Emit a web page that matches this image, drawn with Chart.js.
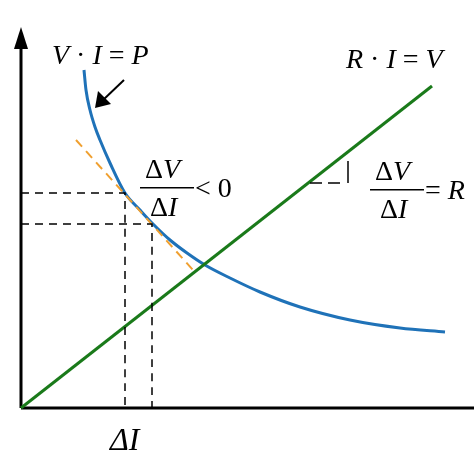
<!DOCTYPE html>
<html><head><meta charset="utf-8">
<script src="https://cdn.jsdelivr.net/npm/chart.js@4.4.0/dist/chart.umd.min.js"></script>
<style>html,body{margin:0;padding:0;background:#fff}#wrap{width:474px;height:474px}</style>
</head><body><div id="wrap"><canvas id="c"></canvas></div>
<script>
// Coordinates in a 0..474 frame (y upward from bottom)
const powerCurve = [[84,404],[86,384],[90,364],[95,347],[100,334],[110,311],[125,281],[140,264],[153,250],[170,234],[187,221],[205,209],[230,196],[260,182],[300,167],[350,154],[400,146],[445,142]];
const resistLine = [[21,66],[432,388]];
const tangentLine = [[76,334],[193,204]];
const guideV1 = [[21,281],[125,281],[125,66]];
const guideV2 = [[21,250],[152,250],[152,66]];
const slopeMark = [[310,291],[346,291]];
const slopeMarkUp = [[348,291],[348,313]];
const xAxis = [[21,66],[474,66]];
const yAxis = [[21,66],[21,440]];

const pts = a => a.map(p => ({x: p[0], y: p[1]}));
const ds = (d, color, width, dash, tension) => ({data: pts(d), borderColor: color, borderWidth: width, borderDash: dash || [], pointRadius: 0, showLine: true, fill: false, tension: tension || 0, cubicInterpolationMode: 'monotone'});

const labels = {
  id: 'labels',
  afterDatasetsDraw(chart) {
    const {ctx, scales: {x, y}} = chart;
    const X = v => x.getPixelForValue(v), Y = v => y.getPixelForValue(v);
    ctx.save();
    ctx.fillStyle = '#000'; ctx.strokeStyle = '#000';
    // axis arrowheads
    ctx.beginPath(); ctx.moveTo(X(21), Y(447)); ctx.lineTo(X(14), Y(425)); ctx.lineTo(X(28), Y(425)); ctx.closePath(); ctx.fill();
    // arrow from label to curve
    ctx.lineWidth = 2;
    ctx.beginPath(); ctx.moveTo(X(124), Y(394)); ctx.lineTo(X(102), Y(373)); ctx.stroke();
    ctx.beginPath(); ctx.moveTo(X(95), Y(366)); ctx.lineTo(X(98), Y(383)); ctx.lineTo(X(111), Y(370)); ctx.closePath(); ctx.fill();
    const it = 'italic 28px "Liberation Serif", "DejaVu Serif", serif';
    const up = '28px "Liberation Serif", "DejaVu Serif", serif';
    const run = (parts, px, py) => {
      let cx = px;
      ctx.textAlign = 'left';
      parts.forEach(([t, f]) => { ctx.font = f ? it : up; ctx.fillText(t, cx, py); cx += ctx.measureText(t).width; });
    };
    ctx.textBaseline = 'alphabetic';
    run([['V', 1], [' · ', 0], ['I', 1], [' = ', 0], ['P', 1]], X(52), Y(410));
    run([['R', 1], [' · ', 0], ['I', 1], [' = ', 0], ['V', 1]], X(346), Y(406));
    const frac = (cx, ty, rest) => {
      run([['Δ', 0], ['V', 1]], cx - 22, ty);
      run([['Δ', 0], ['I', 1]], cx - 17, ty + 38);
      ctx.fillRect(cx - 27, ty + 9, 54, 1.5);
      run(rest, cx + 28, ty + 19);
    };
    frac(X(167), Y(296), [['<', 0], [' 0', 0]]);
    frac(X(397), Y(294), [['=', 0], [' ', 0], ['R', 1]]);
    ctx.font = 'italic 32px "Liberation Serif", "DejaVu Serif", serif';
    ctx.fillText('ΔI', X(110), Y(24));
    ctx.restore();
  }
};

new Chart(document.getElementById('c'), {
  type: 'scatter',
  data: {datasets: [
    ds(guideV1, '#000', 1.5, [8, 6]),
    ds(guideV2, '#000', 1.5, [8, 6]),
    ds(slopeMark, '#000', 1.5, [12, 6]),
    ds(slopeMarkUp, '#000', 1.5),
    ds(tangentLine, '#f0a030', 2, [9, 6]),
    ds(resistLine, '#1a7a1a', 3),
    ds(powerCurve, '#1f72b8', 3, [], 0.4),
    ds(xAxis, '#000', 3),
    ds(yAxis, '#000', 3)
  ]},
  options: {
    responsive: true, maintainAspectRatio: false, animation: false,
    layout: {padding: 0},
    plugins: {legend: {display: false}, tooltip: {enabled: false}},
    scales: {
      x: {type: 'linear', min: 0, max: 474, display: false},
      y: {type: 'linear', min: 0, max: 474, display: false}
    }
  },
  plugins: [labels]
});
</script></body></html>
